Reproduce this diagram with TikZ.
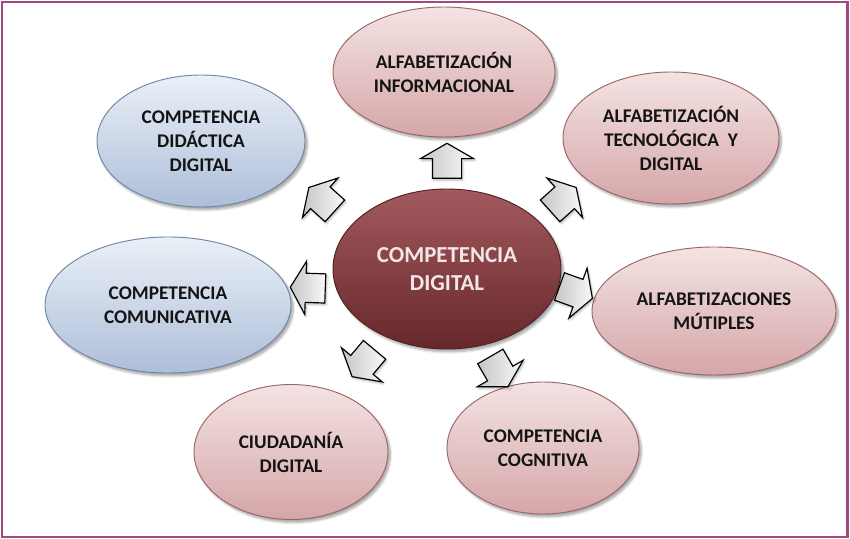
\documentclass[tikz,border=0pt]{standalone}
\usepackage{fontspec}
\setmainfont{Carlito}
\usetikzlibrary{shapes.geometric,shapes.arrows,shadows.blur}
\definecolor{framecol}{HTML}{A04A7F}
\definecolor{pinktop}{HTML}{F4E3E3}
\definecolor{pinkbot}{HTML}{D5A6A8}
\definecolor{pinkline}{HTML}{9C6567}
\definecolor{bluetop}{HTML}{EBF0F7}
\definecolor{bluebot}{HTML}{ADBED9}
\definecolor{blueline}{HTML}{7086A5}
\definecolor{coretop}{HTML}{A35A5E}
\definecolor{corebot}{HTML}{66272B}
\definecolor{coretext}{HTML}{F3E6E6}
\tikzset{
  bubble/.style={ellipse, align=center, font=\fontsize{16.5}{20.5}\selectfont\bfseries,
    text=black!92, line width=0.8pt,
    blur shadow={shadow xshift=2pt, shadow yshift=-2.5pt, shadow blur steps=6, shadow opacity=35}},
  pinkbubble/.style={bubble, draw=pinkline, top color=pinktop, bottom color=pinkbot},
  bluebubble/.style={bubble, draw=blueline, top color=bluetop, bottom color=bluebot},
  corebubble/.style={bubble, draw=corebot!80!black, top color=coretop, bottom color=corebot,
    text=coretext, font=\fontsize{19.5}{24.5}\selectfont\bfseries},
  blkarrow/.style={single arrow, draw=black, line width=1pt, left color=gray!45, right color=white!95!gray,
    minimum height=1.05cm, minimum width=1.56cm, inner xsep=0pt, inner ysep=0.42cm,
    single arrow head extend=0.36cm, single arrow tip angle=120,
    blur shadow={shadow xshift=1pt, shadow yshift=-1.5pt, shadow blur steps=4, shadow opacity=30}}
}
\begin{document}
\begin{tikzpicture}[x=0.03cm, y=-0.03cm]
\useasboundingbox (0,0) rectangle (850,539);
\draw[framecol, line width=2pt] (2,2) rectangle (847.5,537);
% centre
\node[corebubble, minimum width=6.84cm, minimum height=4.8cm] (core) at (447,269) {COMPETENCIA\\DIGITAL};
% outer bubbles
\node[pinkbubble, minimum width=6.66cm, minimum height=3.9cm] (info) at (444,72) {ALFABETIZACIÓN\\INFORMACIONAL};
\node[pinkbubble, minimum width=6.48cm, minimum height=3.96cm] (tecno) at (671,138) {ALFABETIZACIÓN\\TECNOLÓGICA \ Y\\DIGITAL};
\node[pinkbubble, minimum width=7.32cm, minimum height=3.84cm] (multi) at (714,311) {ALFABETIZACIONES\\MÚTIPLES};
\node[pinkbubble, minimum width=5.76cm, minimum height=3.96cm] (cogni) at (543,448) {COMPETENCIA\\COGNITIVA};
\node[pinkbubble, minimum width=5.82cm, minimum height=4.05cm] (ciuda) at (291,452) {CIUDADANÍA\\DIGITAL};
\node[bluebubble, minimum width=7.38cm, minimum height=4.08cm] (comun) at (168,305) {COMPETENCIA\\COMUNICATIVA};
\node[bluebubble, minimum width=6.24cm, minimum height=3.96cm] (didac) at (201,141) {COMPETENCIA\\DIDÁCTICA\\DIGITAL};
% block arrows round the centre
\foreach \n/\x/\y/\a in {up/447/165/90, ul/325/202/138, ur/560/202/42, lf/312/288/178,
    rt/572/291/-20, dl/366/360/-130, dr/497/368/-60}
  \node[blkarrow, rotate=\a] (arr\n) at (\x,\y) {};
\end{tikzpicture}
\end{document}
